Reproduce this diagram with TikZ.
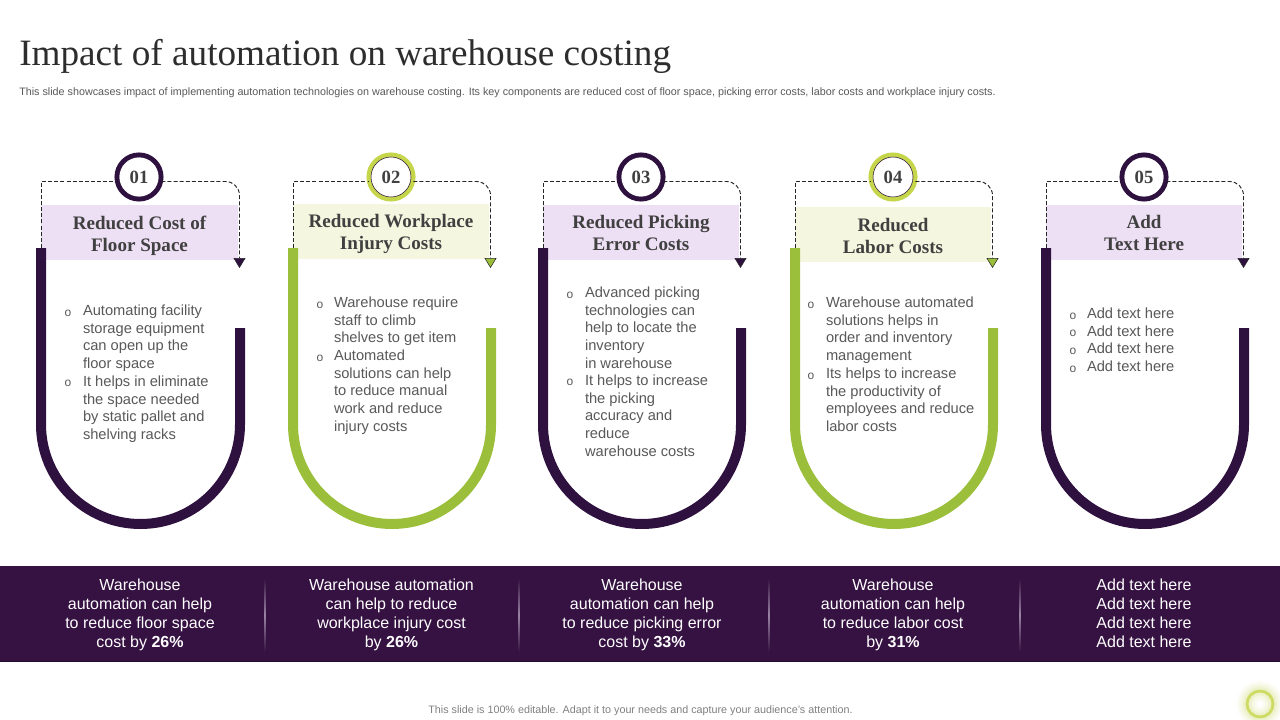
\documentclass[tikz,border=0pt]{standalone}
\usepackage{fontspec}
\setmainfont{Liberation Sans}
\newfontfamily\serifx{Liberation Serif}
\usetikzlibrary{arrows.meta}
\definecolor{darkp}{HTML}{2F1140}
\definecolor{bandp}{HTML}{351241}
\definecolor{greenx}{HTML}{9BBF3B}
\definecolor{ringdarkp}{HTML}{2F1140}
\definecolor{ringgreenx}{HTML}{C5D64B}
\definecolor{ringg}{HTML}{C5D64B}
\definecolor{lilac}{HTML}{EDDFF4}
\definecolor{creamy}{HTML}{F5F6DF}
\definecolor{bodyg}{HTML}{595959}
\definecolor{headg}{HTML}{404040}
\newcommand{\hs}{\rule{0pt}{13.5pt}}
\newcommand{\hsb}{\rule{0pt}{15pt}}
\newcommand{\hd}{\rule[-3pt]{0pt}{3pt}}
\tikzset{
 x=0.75pt,y=-0.75pt,
 headbox/.style={inner sep=0,outer sep=0,minimum height=41.25pt,align=center,text=headg,
   font=\serifx\bfseries\fontsize{14.3pt}{16.5pt}\selectfont},
 numring/.style={circle,fill=white,minimum size=33.4pt,inner sep=0,outer sep=0,line width=3.4pt,text=headg,
   font=\serifx\bfseries\fontsize{14pt}{16pt}\selectfont},
 ubar/.style={line width=7.5pt},
 guide/.style={dash pattern=on 3pt off 1.6pt,line width=0.7pt,color=black!85},
 bodytxt/.style={anchor=north west,inner sep=0,outer sep=0,align=left,text=bodyg,
   font=\fontsize{11pt}{13.2pt}\selectfont},
 bulletx/.style={anchor=center,inner sep=0,text=bodyg,font=\fontsize{9pt}{12pt}\selectfont},
 bandtxt/.style={align=center,text=white!93!lilac,inner sep=0,
   font=\fontsize{12pt}{14.25pt}\selectfont},
}
% #1 id, #2 left x, #3 right x, #4 colour, #5 header fill, #6 header top, #7 circle x, #8 number, #9 header text
\newcommand{\colx}[9]{
 \node[headbox,fill=#5,anchor=north west,minimum width={(#3-#2-2)*0.75pt}] (h#1) at (#2,#6) {\hs #9\hd};
 \draw[ubar,#4] (#2,248) -- (#2,424.5) arc[start angle=180,end angle=360,x radius=0.75pt*(#3-#2)/2,y radius=0.75pt*99.5] -- (#3,328);
 \node[numring,draw=ring#4] (n#1) at (#7,177) {#8};
 \draw[darkp,line width=0.4pt] (n#1.center) circle[radius=15pt];
 \coordinate (ls#1) at (#2,248);
 \coordinate (tip#1) at (#3-0.5,268);
 \coordinate (ra#1) at (#3-14.5,181.5);
 \draw[guide] (ls#1) |- (n#1.west |- 0,181.5);
 \draw[guide,-{Triangle[length=7.5pt,width=9pt,fill=#4,line width=0.4pt]}] (n#1.east |- 0,181.5) -- (ra#1) arc[start angle=90,end angle=0,radius=10.5pt] -- (tip#1);
}
\begin{document}
\begin{tikzpicture}
\useasboundingbox (0,0) rectangle (1280,720);
\fill[white] (0,0) rectangle (1280,720);
\node[anchor=base west,inner sep=0,text=headg!70!black,font=\serifx\fontsize{27.9pt}{30pt}\selectfont] (title) at (19,66) {Impact of automation on warehouse costing};
\node[anchor=west,inner sep=0,text=bodyg,font=\fontsize{8.07pt}{9pt}\selectfont] (sub) at (19,92.5) {This slide showcases impact of implementing automation technologies on warehouse costing. Its key components are reduced cost of floor space, picking error costs, labor costs and workplace injury costs.};

\colx{1}{41}{240}{darkp}{lilac}{205}{139}{01}{\hsb Reduced Cost of\\Floor Space}
\colx{2}{293}{491}{greenx}{creamy}{204}{391}{02}{Reduced Workplace\\Injury Costs}
\colx{3}{543}{741}{darkp}{lilac}{205}{641}{03}{Reduced Picking\\Error Costs}
\colx{4}{795}{993}{greenx}{creamy}{207}{893}{04}{\hsb Reduced\\Labor Costs}
\colx{5}{1046}{1244}{darkp}{lilac}{205}{1144}{05}{Add\\Text Here}

\node[bodytxt] (b1a) at (83,305) {Automating facility\\storage equipment\\can open up the\\floor space};
\node[bodytxt] (b1b) at (83,376) {It helps in eliminate\\the space needed\\by static pallet and\\shelving racks};
\node[bulletx] (o1a) at (68,313) {o}; \node[bulletx] (o1b) at (68,383) {o};

\node[bodytxt] (b2a) at (334,297) {Warehouse require\\staff to climb\\shelves to get item};
\node[bodytxt] (b2b) at (334,350) {Automated\\solutions can help\\to reduce manual\\work and reduce\\injury costs};
\node[bulletx] (o2a) at (320,305) {o}; \node[bulletx] (o2b) at (320,358) {o};

\node[bodytxt] (b3a) at (585,287) {Advanced picking\\technologies can\\help to locate the\\inventory\\in warehouse};
\node[bodytxt] (b3b) at (585,375) {It helps to increase\\the picking\\accuracy and\\reduce\\warehouse costs};
\node[bulletx] (o3a) at (570,295) {o}; \node[bulletx] (o3b) at (570,382) {o};

\node[bodytxt] (b4a) at (826,297) {Warehouse automated\\solutions helps in\\order and inventory\\management};
\node[bodytxt] (b4b) at (826,368) {Its helps to increase\\the productivity of\\employees and reduce\\labor costs};
\node[bulletx] (o4a) at (811,305) {o}; \node[bulletx] (o4b) at (811,376) {o};

\node[bodytxt] (b5) at (1087,308) {Add text here\\Add text here\\Add text here\\Add text here};
\node[bulletx] (o5a) at (1073,316) {o}; \node[bulletx] (o5b) at (1073,333.5) {o};
\node[bulletx] (o5c) at (1073,351) {o}; \node[bulletx] (o5d) at (1073,369) {o};

\fill[bandp] (0,566) rectangle (1280,662);
\draw[darkp!70!black,line width=0.75pt] (0,661.5) -- (1280,661.5);
\foreach \dx in {265,519,769,1020}{
 \shade[top color=bandp,bottom color=bandp,middle color=lilac!55!bandp] (\dx-0.5,578) rectangle (\dx+0.5,652);
}
\node[bandtxt] (t1) at (140,615) {Warehouse\\automation can help\\to reduce floor space\\cost by \textbf{26\%}};
\node[bandtxt] (t2) at (391.5,615) {Warehouse automation\\can help to reduce\\workplace injury  cost\\by \textbf{26\%}};
\node[bandtxt] (t3) at (642,615) {Warehouse\\automation can help\\to reduce picking error\\cost by \textbf{33\%}};
\node[bandtxt] (t4) at (893,615) {Warehouse\\automation can help\\to reduce labor cost\\by \textbf{31\%}};
\node[bandtxt] (t5) at (1144,613) {Add text here\\Add text here\\Add text here\\Add text here};

\node[inner sep=0,text=black!50,font=\fontsize{8.07pt}{9pt}\selectfont] (foot) at (640.5,711) {This slide is 100\% editable.  Adapt it to your needs and capture your audience's attention.};

\begin{scope}
\clip (1230,670) rectangle (1280,720);
\foreach \w/\o in {15/0.05,12/0.06,9/0.08,6/0.12}{\draw[ringg,opacity=\o,line width=\w pt] (1260,704) circle[radius=9.75pt];}
\draw[ringg!85!white,line width=2.2pt] (1260,704) circle[radius=9.75pt];
\end{scope}
\end{tikzpicture}
\end{document}
